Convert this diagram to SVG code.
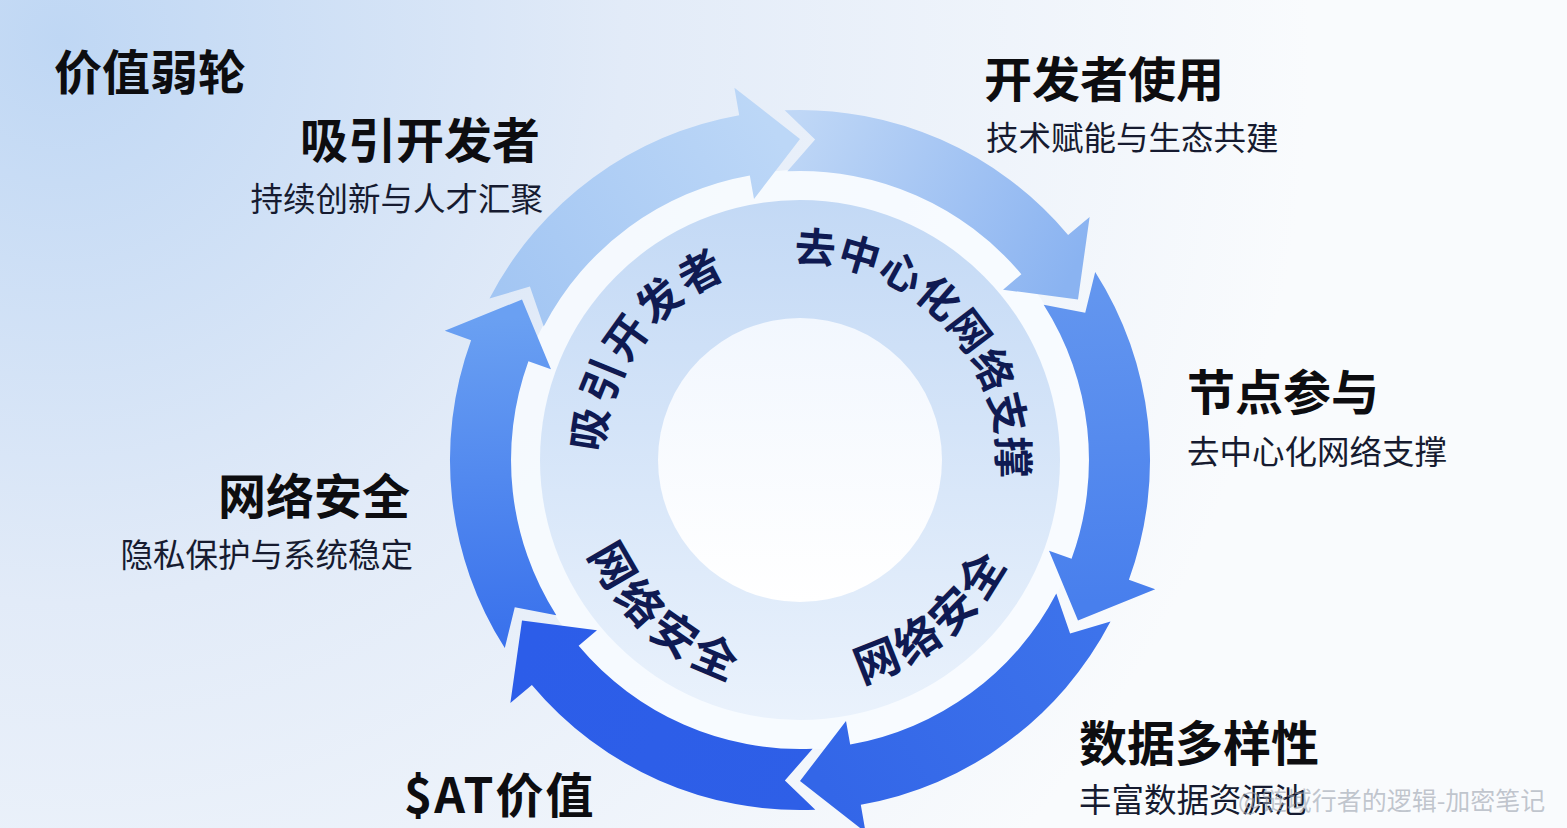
<svg xmlns="http://www.w3.org/2000/svg" width="1567" height="828" viewBox="0 0 1567 828">
  <defs>
    <radialGradient id="bg" cx="60" cy="40" r="1250" gradientUnits="userSpaceOnUse">
      <stop offset="0" stop-color="#bfd7f4"/>
      <stop offset="0.45" stop-color="#e2ebf8"/>
      <stop offset="1" stop-color="#f9fbfd"/>
    </radialGradient>
    <linearGradient id="disc" x1="0" y1="0" x2="0" y2="1">
      <stop offset="0" stop-color="#c3d9f5"/>
      <stop offset="1" stop-color="#eaf2fc"/>
    </linearGradient>
    <linearGradient id="hole" x1="0" y1="0" x2="0" y2="1">
      <stop offset="0" stop-color="#f2f7fe"/>
      <stop offset="1" stop-color="#ffffff"/>
    </linearGradient>
    <linearGradient id="g0" gradientUnits="userSpaceOnUse" x1="515" y1="312" x2="780" y2="140">
      <stop offset="0" stop-color="#a3c6f3"/><stop offset="1" stop-color="#bcd7f7"/>
    </linearGradient>
    <linearGradient id="g1" gradientUnits="userSpaceOnUse" x1="515" y1="312" x2="780" y2="140">
      <stop offset="0" stop-color="#bfd7f6"/><stop offset="1" stop-color="#8ab3f1"/>
    </linearGradient>
    <linearGradient id="g2" gradientUnits="userSpaceOnUse" x1="515" y1="312" x2="780" y2="140">
      <stop offset="0" stop-color="#6396ef"/><stop offset="1" stop-color="#487fed"/>
    </linearGradient>
    <linearGradient id="g3" gradientUnits="userSpaceOnUse" x1="515" y1="312" x2="780" y2="140">
      <stop offset="0" stop-color="#3d73eb"/><stop offset="1" stop-color="#3366e8"/>
    </linearGradient>
    <linearGradient id="g4" gradientUnits="userSpaceOnUse" x1="515" y1="312" x2="780" y2="140">
      <stop offset="0" stop-color="#2e5fe7"/><stop offset="1" stop-color="#2c5de9"/>
    </linearGradient>
    <linearGradient id="g5" gradientUnits="userSpaceOnUse" x1="515" y1="312" x2="780" y2="140">
      <stop offset="0" stop-color="#3a72ec"/><stop offset="1" stop-color="#6aa0f2"/>
    </linearGradient>
    <path id="arrow" d="M489.5,298.4 A350,350 0 0 1 739.2,115.3 L734.4,87.7 L800,139 L754,199 L749.8,175.4 A289,289 0 0 0 543.7,326.6 L529.9,286.6 Z"/>
    <path id="arcA" d="M620.6,541.4 A197,197 0 0 1 819.2,263.9"/>
    <path id="arcB" d="M722,278 A198,198 0 0 1 976.7,549.3"/>
    <path id="arcC" d="M569.1,454.8 A231,231 0 0 0 834.9,688.3"/>
    <path id="arcD" d="M759.1,687.4 A231,231 0 0 0 1031,460.8"/>
    <style>
      .h { font-family: "Noto Sans CJK SC", "Noto Sans", sans-serif; font-weight: 700; font-size: 48px; fill: #0d0d10; }
      .s { font-family: "Noto Sans CJK SC", "Noto Sans", sans-serif; font-weight: 400; font-size: 32.5px; fill: #161b30; }
      .c { font-family: "Noto Sans CJK SC", sans-serif; font-weight: 700; fill: #0f1a52; }
      .wm { font-family: "Noto Sans CJK SC", sans-serif; font-size: 25px; fill: #9aa1ad; fill-opacity: 0.6; }
    </style>
  </defs>

  <rect x="0" y="0" width="1567" height="828" fill="url(#bg)"/>

  <g id="wheel">
    <circle cx="800" cy="460" r="290" fill="#f8fbff" fill-opacity="0.85"/>
    <circle cx="800" cy="460" r="260" fill="url(#disc)"/>
    <circle cx="800" cy="460" r="142" fill="url(#hole)"/>
  </g>

  <g id="connectors">
    <use href="#arrow" fill="url(#g0)"/>
    <use href="#arrow" fill="url(#g1)" transform="rotate(60 800 460)"/>
    <use href="#arrow" fill="url(#g2)" transform="rotate(120 800 460)"/>
    <use href="#arrow" fill="url(#g3)" transform="rotate(180 800 460)"/>
    <use href="#arrow" fill="url(#g4)" transform="rotate(240 800 460)"/>
    <use href="#arrow" fill="url(#g5)" transform="rotate(300 800 460)"/>
  </g>

  <g id="ring-labels">
    <text class="c" font-size="43" letter-spacing="3"><textPath href="#arcA" startOffset="50%" text-anchor="middle">吸引开发者</textPath></text>
    <text class="c" font-size="41" letter-spacing="1"><textPath href="#arcB" startOffset="50%" text-anchor="middle">去中心化网络支撑</textPath></text>
    <text class="c" font-size="45" letter-spacing="5"><textPath href="#arcC" startOffset="50%" text-anchor="middle">网络安全</textPath></text>
    <text class="c" font-size="45" letter-spacing="4"><textPath href="#arcD" startOffset="50%" text-anchor="middle">网络安全</textPath></text>
  </g>

  <g id="title"><text class="h" x="54" y="90">价值弱轮</text></g>

  <g id="node-attract">
    <text class="h" x="540" y="158" text-anchor="end">吸引开发者</text>
    <text class="s" x="543" y="211" text-anchor="end">持续创新与人才汇聚</text>
  </g>
  <g id="node-use">
    <text class="h" x="984" y="97">开发者使用</text>
    <text class="s" x="986" y="150">技术赋能与生态共建</text>
  </g>
  <g id="node-nodes">
    <text class="h" x="1187" y="410">节点参与</text>
    <text class="s" x="1187" y="464">去中心化网络支撑</text>
  </g>
  <g id="node-security">
    <text class="h" x="410" y="514" text-anchor="end">网络安全</text>
    <text class="s" x="413" y="567" text-anchor="end">隐私保护与系统稳定</text>
  </g>
  <g id="node-value">
    <text class="h" x="404" y="813" letter-spacing="2">$AT价值</text>
  </g>
  <g id="node-data">
    <text class="h" x="1079" y="761">数据多样性</text>
    <text class="s" x="1079" y="812">丰富数据资源池</text>
  </g>
  <g id="watermark">
    <text class="wm" x="1238" y="810">@链域行者的逻辑-加密笔记</text>
  </g>
</svg>
